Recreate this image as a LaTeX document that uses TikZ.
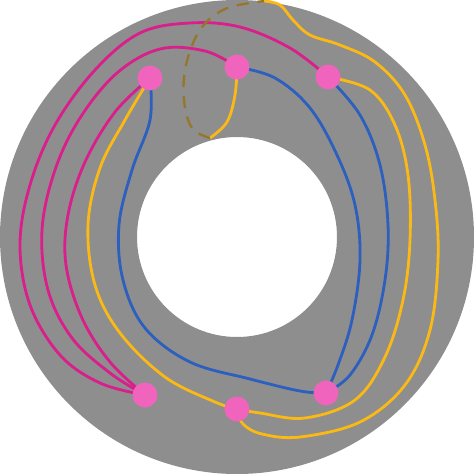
\documentclass[tikz,border=0pt]{standalone}
\usepackage{tikz}
\usetikzlibrary{backgrounds}
\definecolor{ringgray}{RGB}{142,142,142}
\definecolor{dotpink}{RGB}{240,100,190}
\definecolor{strandmag}{RGB}{218,30,140}
\definecolor{strandblue}{RGB}{45,95,190}
\definecolor{strandorange}{RGB}{250,185,20}
\definecolor{strandolive}{RGB}{150,118,40}
\begin{document}
\begin{tikzpicture}[x=0.02cm,y=-0.02cm,
	dot/.style={circle,fill=dotpink,minimum size=0.5cm,inner sep=0pt},
	strand/.style={line width=1.6pt,smooth,tension=0.6}]
	\useasboundingbox (0,0) rectangle (474,474);
	\foreach \p/\x/\y in {A/150/78,B/237/67,C/328/77,D/145/395,E/237/409,F/326/393} \node[dot] (\p) at (\x,\y) {};%diem
	\coordinate (H) at (210,138);%mep trong
	\coordinate (R) at (264,1);%mep ngoai
	\begin{scope}[on background layer]
		\fill[ringgray,even odd rule] (237,237) circle (237) (237,237) circle (100);%vanh khuyen
		%magenta
		\draw[strand,strandmag] plot coordinates {(C.center) (290,48) (240,27) (190,23) (140,33) (95,70) (55,125) (30,185) (20,245) (30,305) (60,355) (100,383) (D.center)};
		\draw[strand,strandmag] plot coordinates {(B.center) (205,51) (160,49) (117,73) (80,118) (55,170) (42,230) (48,290) (72,338) (110,373) (D.center)};
		\draw[strand,strandmag] plot coordinates {(A.center) (115,112) (85,162) (68,215) (66,265) (82,318) (110,362) (D.center)};
		%blue
		\draw[strand,strandblue] plot coordinates {(A.center) (150,120) (132,170) (119,225) (123,280) (145,328) (190,362) (250,379) (300,391) (F.center)};
		\draw[strand,strandblue] plot coordinates {(B.center) (275,78) (310,108) (337,155) (355,205) (360,260) (352,320) (338,365) (F.center)};
		\draw[strand,strandblue] plot coordinates {(C.center) (360,115) (380,165) (388,225) (385,280) (372,335) (350,375) (F.center)};
		%orange
		\draw[strand,strandorange] plot coordinates {(A.center) (125,120) (100,168) (88,225) (95,285) (120,333) (165,377) (215,402) (E.center)};
		\draw[strand,strandorange] plot coordinates {(C.center) (370,90) (395,125) (408,175) (410,240) (403,300) (385,357) (355,400) (305,418) (260,413) (E.center)};
		\draw[strand,strandorange] plot coordinates {(R) (280,5) (293,20) (310,35) (340,45) (375,62) (405,95) (425,145) (435,200) (438,260) (430,330) (405,385) (360,422) (300,437) (262,434) (243,424) (E.center)};
		\draw[strand,strandorange] plot coordinates {(B.center) (235,95) (227,122) (H)};
		\draw[strand,strandolive,line width=1.3pt,dash pattern=on 7pt off 5pt] plot coordinates {(H) (192,128) (184,100) (186,65) (200,30) (225,9) (R)};%mat sau
	\end{scope}
\end{tikzpicture}
\end{document}
